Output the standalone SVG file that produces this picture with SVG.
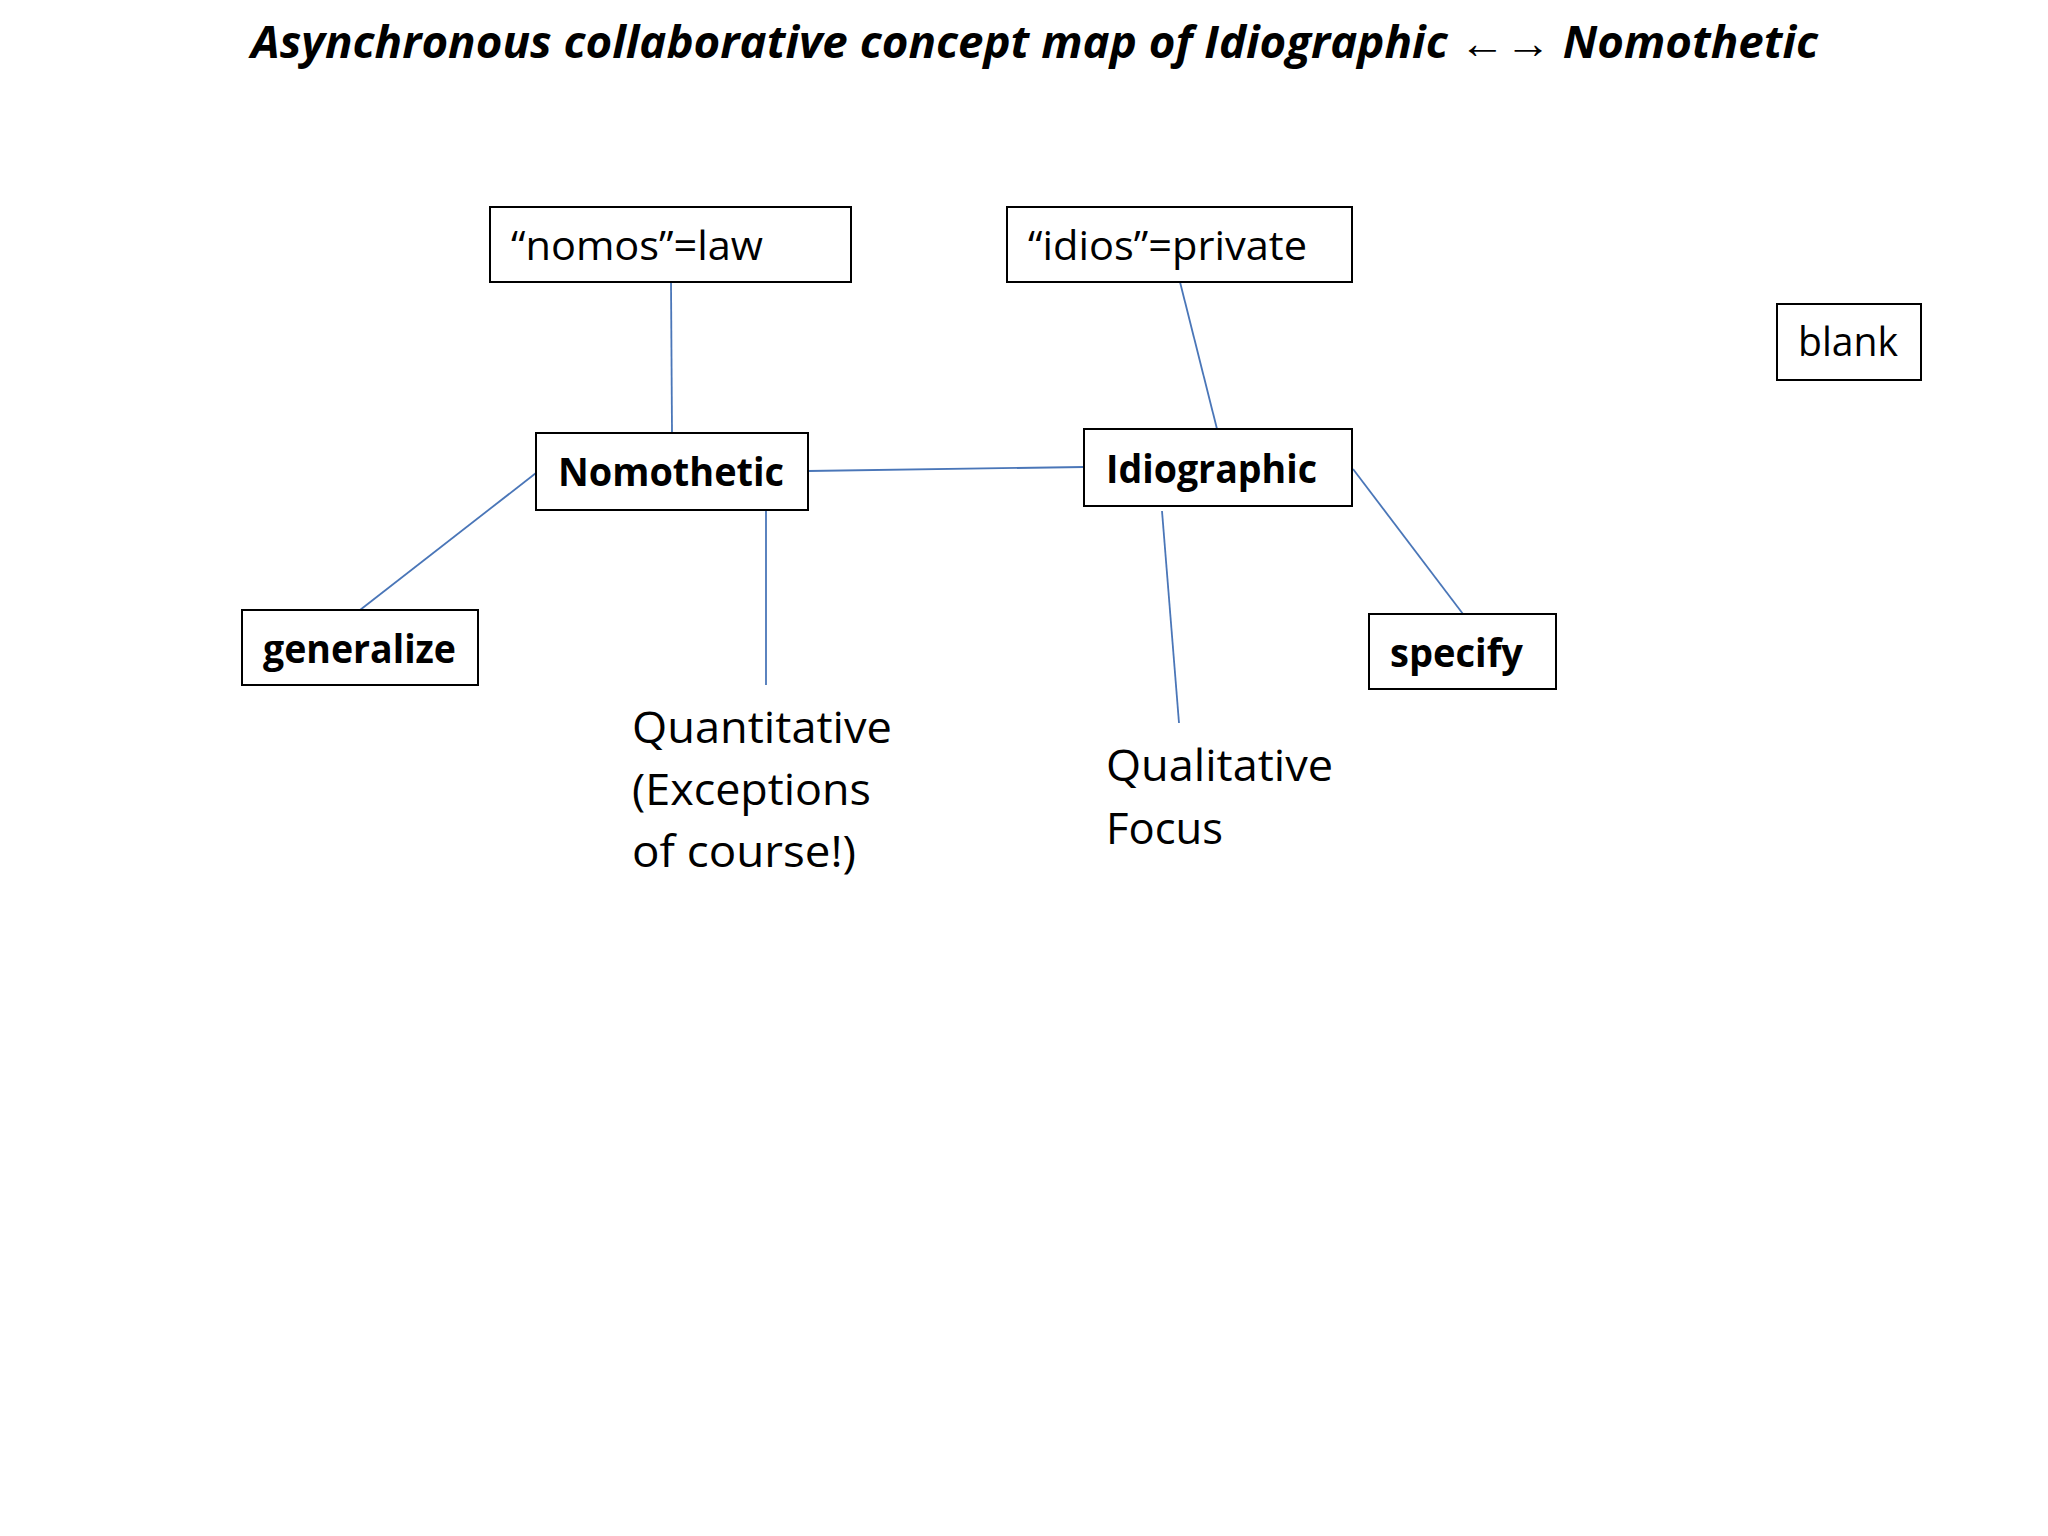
<svg xmlns="http://www.w3.org/2000/svg" width="2048" height="1536" viewBox="0 0 2048 1536">
<style>
text{font-family:"Open Sans","Noto Sans",sans-serif;fill:#000}
.box{fill:#fff;stroke:#000;stroke-width:2}
.t{font-size:40px}
.b{font-size:40px;font-weight:bold}
.q{font-size:44px}
#connectors line{stroke:#4a76b8;stroke-width:1.8}
</style>
<rect width="2048" height="1536" fill="#fff"/>
<text x="251" y="58" font-size="44" font-weight="bold" font-style="italic" textLength="1567" lengthAdjust="spacingAndGlyphs">Asynchronous collaborative concept map of Idiographic ←→ Nomothetic</text>
<g id="connectors">
<line x1="671" y1="282" x2="672" y2="433"/>
<line x1="1180" y1="282" x2="1217" y2="429"/>
<line x1="808" y1="471" x2="1084" y2="467"/>
<line x1="536" y1="473" x2="360" y2="610"/>
<line x1="766" y1="511" x2="766" y2="685"/>
<line x1="1162" y1="511" x2="1179" y2="723"/>
<line x1="1353" y1="469" x2="1463" y2="614"/>
</g>
<g id="nomos"><rect class="box" x="490" y="207" width="361" height="75"/><text class="t" x="511" y="260" textLength="252" lengthAdjust="spacingAndGlyphs">“nomos”=law</text></g>
<g id="idios"><rect class="box" x="1007" y="207" width="345" height="75"/><text class="t" x="1028" y="260" textLength="279" lengthAdjust="spacingAndGlyphs">“idios”=private</text></g>
<g id="blank"><rect class="box" x="1777" y="304" width="144" height="76"/><text class="t" x="1798" y="356" textLength="100" lengthAdjust="spacingAndGlyphs">blank</text></g>
<g id="nomothetic"><rect class="box" x="536" y="433" width="272" height="77"/><text class="b" x="558" y="486" textLength="226" lengthAdjust="spacingAndGlyphs">Nomothetic</text></g>
<g id="idiographic"><rect class="box" x="1084" y="429" width="268" height="77"/><text class="b" x="1106" y="483" textLength="211" lengthAdjust="spacingAndGlyphs">Idiographic</text></g>
<g id="generalize"><rect class="box" x="242" y="610" width="236" height="75"/><text class="b" x="263" y="663" textLength="193" lengthAdjust="spacingAndGlyphs">generalize</text></g>
<g id="specify"><rect class="box" x="1369" y="614" width="187" height="75"/><text class="b" x="1390" y="667" textLength="133" lengthAdjust="spacingAndGlyphs">specify</text></g>
<g id="quantitative">
<text class="q" x="632" y="743" textLength="260" lengthAdjust="spacingAndGlyphs">Quantitative</text>
<text class="q" x="632" y="805" textLength="239" lengthAdjust="spacingAndGlyphs">(Exceptions</text>
<text class="q" x="632" y="867" textLength="224" lengthAdjust="spacingAndGlyphs">of course!)</text>
</g>
<g id="qualitative">
<text class="q" x="1106" y="781" textLength="227" lengthAdjust="spacingAndGlyphs">Qualitative</text>
<text class="q" x="1106" y="844" textLength="117" lengthAdjust="spacingAndGlyphs">Focus</text>
</g>
</svg>
